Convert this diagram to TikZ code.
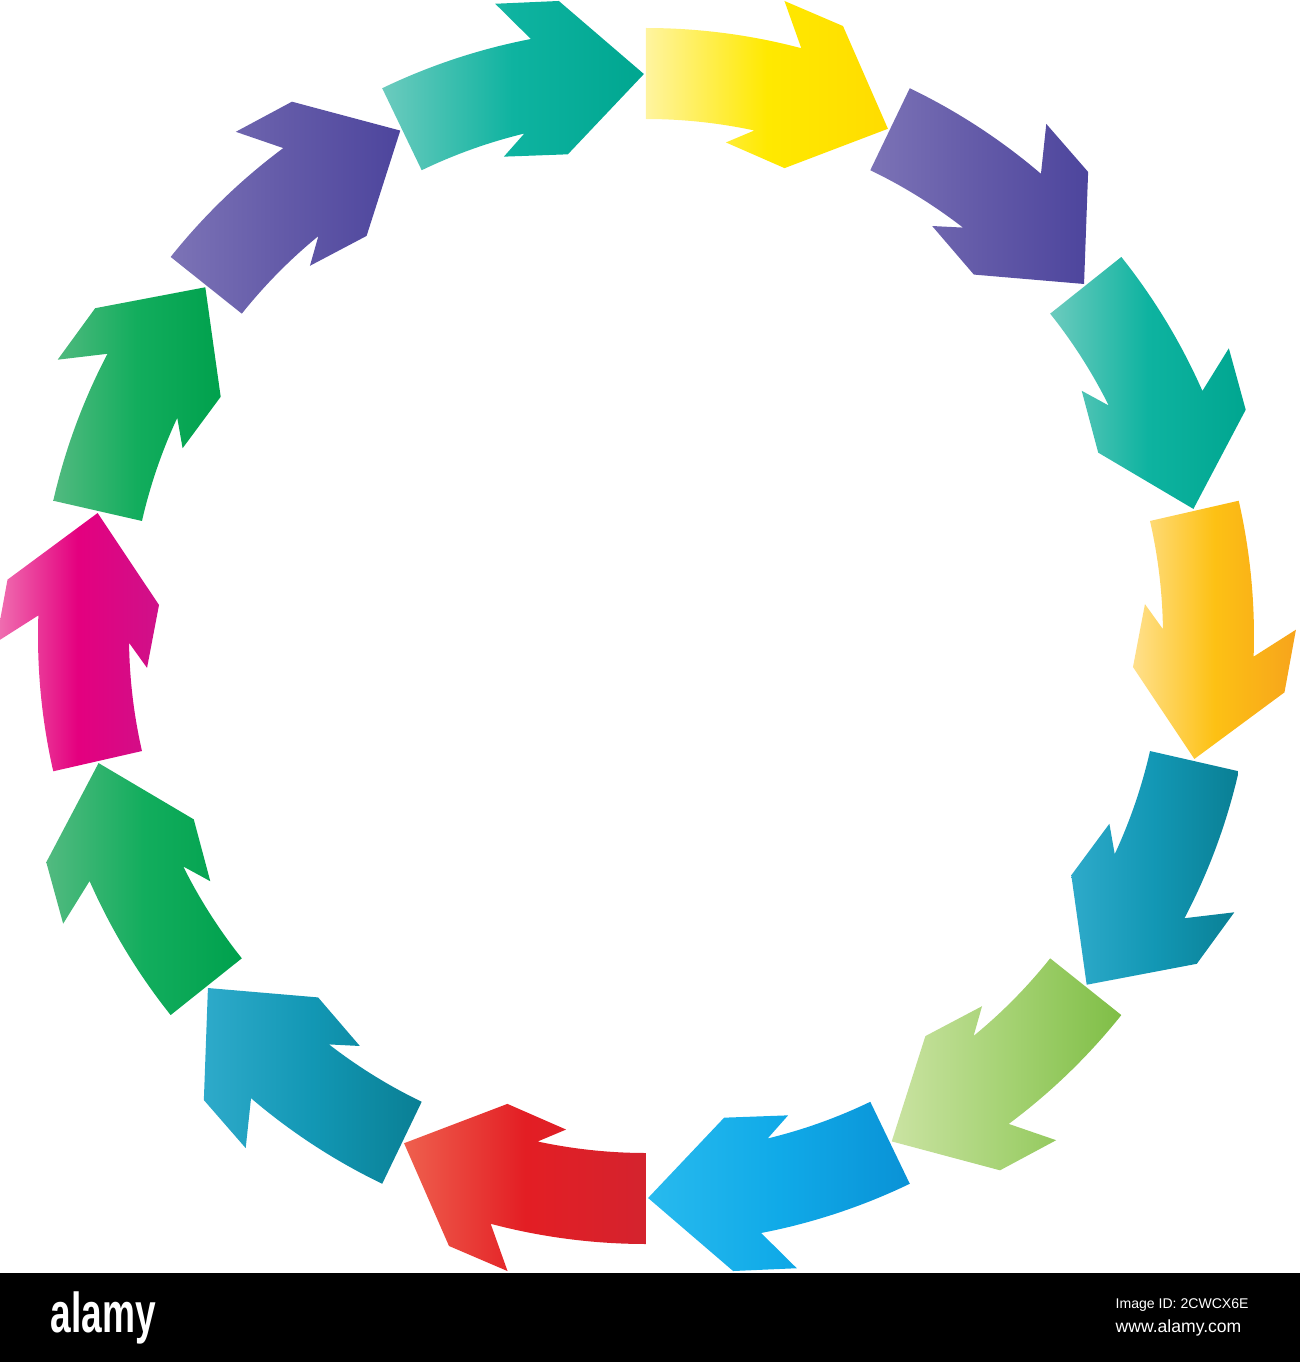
\documentclass[tikz,border=0pt]{standalone}
\usepackage{fontspec}
\setmainfont{Liberation Sans}
\usepackage{tikz}

% colori delle frecce (chiaro a sinistra, pieno al centro, scuro a destra)
\definecolor{gialloL}{HTML}{FFF4A0}
\definecolor{gialloM}{HTML}{FFE900}
\definecolor{gialloD}{HTML}{FFDC00}
\definecolor{violaL}{HTML}{7C73B6}
\definecolor{violaM}{HTML}{635AA8}
\definecolor{violaD}{HTML}{4D459D}
\definecolor{verdeacquaL}{HTML}{6CCBBE}
\definecolor{verdeacquaM}{HTML}{0EB3A0}
\definecolor{verdeacquaD}{HTML}{00A690}
\definecolor{aranciL}{HTML}{FFE08C}
\definecolor{aranciM}{HTML}{FDC114}
\definecolor{aranciD}{HTML}{F7A41C}
\definecolor{petrolioL}{HTML}{2EAACA}
\definecolor{petrolioM}{HTML}{1297B4}
\definecolor{petrolioD}{HTML}{0A7F94}
\definecolor{limeL}{HTML}{CAE3A2}
\definecolor{limeM}{HTML}{A5D273}
\definecolor{limeD}{HTML}{7FBE46}
\definecolor{cieloL}{HTML}{28BAEE}
\definecolor{cieloM}{HTML}{10AAE8}
\definecolor{cieloD}{HTML}{0A92D6}
\definecolor{rossoL}{HTML}{EF604E}
\definecolor{rossoM}{HTML}{E31E24}
\definecolor{rossoD}{HTML}{D4232E}
\definecolor{verdeL}{HTML}{52BA80}
\definecolor{verdeM}{HTML}{12AD5D}
\definecolor{verdeD}{HTML}{00A14D}
\definecolor{magentaL}{HTML}{F072B2}
\definecolor{magentaM}{HTML}{E4007F}
\definecolor{magentaD}{HTML}{CF1189}

\begin{document}
\begin{tikzpicture}[freccia/.style n args={3}{left color=#1L,right color=#1D,middle color=#1M}]
		\useasboundingbox (-6.46,-7.26) rectangle (6.54,6.36);
		%\draw [help lines] (-6,-6) grid (6,6);
		
		% Frecce: 14, in senso orario a partire dall'alto
		\foreach \k/\colore in {0/giallo, 1/viola, 2/verdeacqua, 3/aranci,
			4/petrolio, 5/lime, 6/cielo, 7/rosso, 8/petrolio, 9/verde,
			10/magenta, 11/verde, 12/viola, 13/verdeacqua}{
			\pgfmathsetmacro{\ang}{90-\k*360/14}
			\pgfmathsetmacro{\angA}{\ang-14.8}
			\pgfmathsetmacro{\angB}{\ang-12.1}
			\shade [freccia={\colore}{}{}] (\ang:6.08)
				arc [start angle=\ang, end angle=\angA, radius=6.08]
				-- ({\ang-12.3}:6.50) -- ({\ang-17.9}:6.41) -- ({\ang-25.5}:5.62)
				-- ({\ang-16.5}:4.88) -- ({\ang-9.2}:5.00) -- (\angB:5.17)
				arc [start angle=\angB, end angle=\ang, radius=5.17] -- cycle;
		}
		
		% Banda in basso
		\fill [black] (-6.46,-7.26) rectangle (6.54,-6.37);
		\node [anchor=base west, inner sep=0, text=white, xscale=0.66,
			font=\fontsize{16}{16}\selectfont\bfseries] (logo) at (-5.96,-6.96) {alamy};
		\node [anchor=base west, inner sep=0, text=white,
			font=\fontsize{4}{4}\selectfont] (codice) at (4.69,-6.72) {Image ID: 2CWCX6E};
		\node [anchor=base west, inner sep=0, text=white,
			font=\fontsize{5}{5}\selectfont] (sito) at (4.69,-6.96) {www.alamy.com};
	\end{tikzpicture}
\end{document}
